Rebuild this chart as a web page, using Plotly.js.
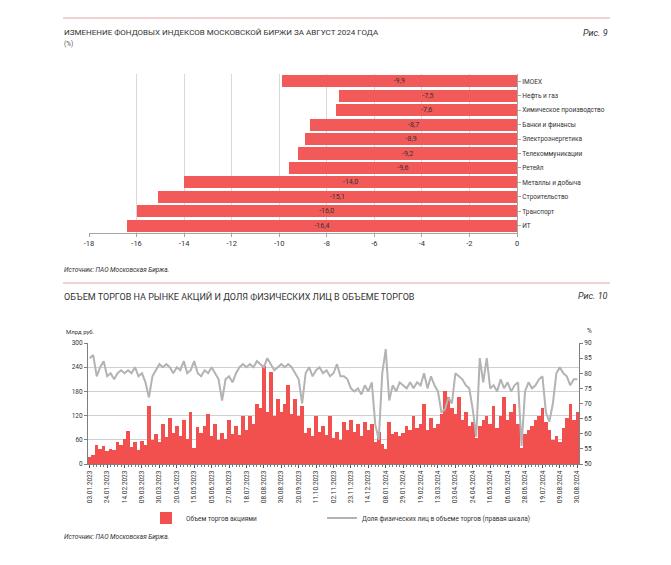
<!DOCTYPE html>
<html>
<head>
<meta charset="utf-8">
<script src="https://cdn.plot.ly/plotly-3.0.1.min.js"></script>
<style>
html,body{margin:0;padding:0;background:#fff;}
#chart{width:671px;height:565px;}
</style>
</head>
<body>
<div id="chart"></div>
<script>
// ---------- Figure 9 data ----------
const indexNames = ['IMOEX','Нефть и газ','Химическое производство','Банки и финансы','Электроэнергетика','Телекоммуникации','Ретейл','Металлы и добыча','Строительство','Транспорт','ИТ'];
const indexChange = [-9.9,-7.5,-7.6,-8.7,-8.9,-9.2,-9.6,-14.0,-15.1,-16.0,-16.4];
const changeTicks = [-18,-16,-14,-12,-10,-8,-6,-4,-2,0];

// ---------- Figure 10 data ----------
const dateLabels = ['03.01.2023','24.01.2023','14.02.2023','09.03.2023','30.03.2023','20.04.2023','15.05.2023','05.06.2023','27.06.2023','18.07.2023','08.08.2023','30.08.2023','20.09.2023','11.10.2023','02.11.2023','23.11.2023','14.12.2023','08.01.2024','29.01.2024','19.02.2024','13.03.2024','03.04.2024','24.04.2024','16.05.2024','06.06.2024','28.06.2024','19.07.2024','09.08.2024','30.08.2024'];
const tradeVolume = [18,22,48,38,45,32,38,35,55,48,62,82,42,55,35,58,48,143,60,75,
  55,100,68,115,78,95,70,108,62,130,40,92,78,95,125,70,100,60,78,62,
  108,75,95,72,118,85,120,100,150,140,242,130,228,120,160,130,150,195,125,160,
  118,145,78,90,70,120,80,95,72,118,65,80,60,105,85,110,80,98,70,105,
  85,98,55,80,50,38,105,75,80,70,78,95,85,118,90,100,150,85,115,90,
  100,125,180,165,140,125,165,110,130,95,105,65,95,110,120,100,145,90,118,165,
  110,130,150,100,40,75,85,95,110,120,140,105,85,60,70,55,90,115,150,110,130];
const retailShare = [85,86,79,82,84,79,80,78,80,81,80,81,80,82,79,80,77,72,79,81,
  83,82,83,82,80,82,81,84,80,81,84,80,79,81,80,82,80,78,71,78,
  79,77,80,82,83,82,83,82,84,83,82,85,83,81,82,83,82,83,82,80,
  78,70,80,82,79,81,82,80,81,79,80,83,79,79,78,75,74,75,73,76,
  74,77,63,58,80,88,71,76,74,77,76,75,77,75,77,76,80,75,79,76,
  74,67,68,72,70,80,79,78,76,75,68,59,85,77,85,75,76,74,78,75,
  77,74,76,77,56,74,77,75,76,78,79,67,64,70,80,82,80,79,76,78,78];

const W = 671, H = 565;
const px = v => v / W;
const py = v => 1 - v / H;
const FONT = 'Roboto, Arial, sans-serif';
const TXT = '#333333';

const fmt = v => v.toFixed(1).replace('.', ',');
const dayIndex = tradeVolume.map((_, i) => i);
const step = (tradeVolume.length - 1) / (dateLabels.length - 1);
const dateTickVals = dateLabels.map((_, k) => k * step);

const traces = [
  {
    type: 'bar', orientation: 'h',
    x: indexChange, y: indexNames,
    xaxis: 'x', yaxis: 'y', width: 0.84,
    marker: {color: '#f25959'},
    text: indexChange.map(fmt),
    textposition: 'inside', insidetextanchor: 'middle', constraintext: 'none',
    textfont: {color: TXT, size: 7, family: FONT},
    showlegend: false, hoverinfo: 'x+y'
  },
  {
    type: 'bar',
    x: dayIndex, y: tradeVolume,
    xaxis: 'x2', yaxis: 'y2',
    name: 'Объем торгов акциями',
    marker: {color: '#f24f4f', line: {width: 0}},
    showlegend: true, legend: 'legend'
  },
  {
    type: 'scatter', mode: 'lines',
    x: dayIndex, y: retailShare,
    xaxis: 'x2', yaxis: 'y3',
    name: 'Доля физических лиц в объеме торгов (правая шкала)',
    line: {color: '#b3b3b3', width: 2},
    showlegend: true, legend: 'legend2'
  }
];

const annot = (text, x, y, opts) => Object.assign({
  text: text, xref: 'paper', yref: 'paper', x: px(x), y: py(y),
  xanchor: 'left', yanchor: 'middle', showarrow: false,
  font: {family: FONT, size: 9, color: TXT}
}, opts || {});

const legendStyle = (x) => ({
  orientation: 'h', x: px(x), y: py(518), xanchor: 'left', yanchor: 'middle',
  itemwidth: 30, font: {family: FONT, size: 6.5, color: TXT}, bgcolor: 'rgba(0,0,0,0)'
});

const layout = {
  width: W, height: H,
  margin: {l: 0, r: 0, t: 0, b: 0, pad: 0},
  paper_bgcolor: '#ffffff', plot_bgcolor: '#ffffff',
  font: {family: FONT, size: 7, color: TXT},
  bargap: 0,
  showlegend: true,
  legend: legendStyle(146),
  legend2: legendStyle(322),
  xaxis: {
    domain: [px(89), px(517)], anchor: 'y',
    range: [-18, 0], tickvals: changeTicks, ticktext: changeTicks.map(String),
    showgrid: true, gridcolor: '#d9d9d9', gridwidth: 1,
    zeroline: false, showline: true, linecolor: '#a6a6a6',
    ticks: 'outside', ticklen: 3, tickcolor: '#a6a6a6',
    tickfont: {size: 7.5, family: FONT, color: TXT}, fixedrange: true
  },
  yaxis: {
    domain: [py(233), py(74)], anchor: 'x', side: 'right',
    type: 'category', autorange: 'reversed',
    showgrid: false, zeroline: false, showline: true, linecolor: '#a6a6a6',
    ticks: 'outside', ticklen: 3, tickcolor: '#a6a6a6',
    tickfont: {size: 6.5, family: FONT, color: TXT}, fixedrange: true
  },
  xaxis2: {
    domain: [px(88), px(579)], anchor: 'y2',
    range: [-0.5, tradeVolume.length - 0.5],
    tickvals: dateTickVals, ticktext: dateLabels, tickangle: -90,
    showgrid: false, zeroline: false, showline: true, linecolor: '#7f7f7f',
    ticks: 'outside', ticklen: 3, tickcolor: '#555',
    minor: {dtick: 1, ticks: 'outside', ticklen: 2, tickcolor: '#777', showgrid: false},
    tickfont: {size: 6.5, family: FONT, color: TXT}, fixedrange: true
  },
  yaxis2: {
    domain: [py(464), py(343)], anchor: 'x2',
    range: [0, 300], dtick: 60,
    showgrid: true, gridcolor: '#d0d0d0', zeroline: false,
    showline: true, linecolor: '#7f7f7f', ticks: 'outside', ticklen: 3, tickcolor: '#7f7f7f',
    tickfont: {size: 6.5, family: FONT, color: TXT}, fixedrange: true
  },
  yaxis3: {
    domain: [py(464), py(343)], anchor: 'x2', overlaying: 'y2', side: 'right',
    range: [50, 90], dtick: 5,
    showgrid: false, zeroline: false,
    showline: true, linecolor: '#7f7f7f', ticks: 'outside', ticklen: 3, tickcolor: '#7f7f7f',
    tickfont: {size: 6.5, family: FONT, color: TXT}, fixedrange: true
  },
  shapes: [
    {type: 'line', xref: 'paper', yref: 'paper', x0: px(63), x1: px(610), y0: py(18), y1: py(18), line: {color: '#e3a3a3', width: 1}},
    {type: 'line', xref: 'paper', yref: 'paper', x0: px(63), x1: px(610), y0: py(283), y1: py(283), line: {color: '#e3a3a3', width: 1}}
  ],
  annotations: [
    annot('ИЗМЕНЕНИЕ ФОНДОВЫХ ИНДЕКСОВ МОСКОВСКОЙ БИРЖИ ЗА АВГУСТ 2024 ГОДА', 62, 33, {font: {family: FONT, size: 8, color: TXT}}),
    annot('<i>Рис. 9</i>', 610, 33, {xanchor: 'right', font: {family: FONT, size: 9, color: TXT}}),
    annot('(%)', 62, 44, {font: {family: FONT, size: 6.5, color: '#555'}}),
    annot('<i>Источник: ПАО Московская Биржа.</i>', 62, 270, {font: {family: FONT, size: 6.5, color: TXT}}),
    annot('ОБЪЕМ ТОРГОВ НА РЫНКЕ АКЦИЙ И ДОЛЯ ФИЗИЧЕСКИХ ЛИЦ В ОБЪЕМЕ ТОРГОВ', 62, 296, {font: {family: FONT, size: 9, color: TXT}}),
    annot('<i>Рис. 10</i>', 610, 296, {xanchor: 'right', font: {family: FONT, size: 9, color: TXT}}),
    annot('Млрд руб.', 64, 331, {font: {family: FONT, size: 6, color: TXT}}),
    annot('%', 594, 331, {xanchor: 'right', font: {family: FONT, size: 6.5, color: TXT}}),
    annot('<i>Источник: ПАО Московская Биржа.</i>', 62, 537, {font: {family: FONT, size: 6.5, color: TXT}})
  ]
};

Plotly.newPlot('chart', traces, layout, {displayModeBar: false, staticPlot: true});
</script>
</body>
</html>
